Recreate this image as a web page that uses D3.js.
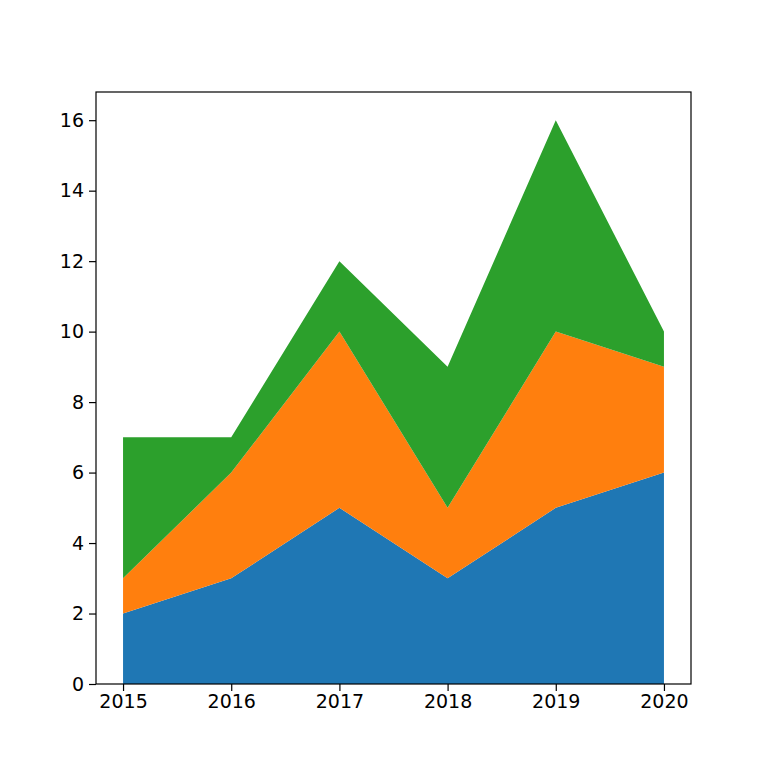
<!DOCTYPE html>
<html><head><meta charset="utf-8">
<script src="https://cdn.jsdelivr.net/npm/d3@7"></script>
<style>body{margin:0;background:#fff}</style></head>
<body><svg id="c" width="768" height="768"></svg>
<script>
const years=[2015,2016,2017,2018,2019,2020];
const seriesA=[2,3,5,3,5,6];
const seriesB=[1,3,5,2,5,3];
const seriesC=[4,1,2,4,6,1];
const colors=["#1f77b4","#ff7f0e","#2ca02c"];
const yTicks=[0,2,4,6,8,10,12,14,16];
const L=96,R=691,T=92,B=684;
const svg=d3.select("#c");
const x=d3.scaleLinear().domain([2014.75,2020.25]).range([L,R]);
const y=d3.scaleLinear().domain([0,16.8]).range([B,T]);
const rows=years.map((yr,i)=>({yr,a:seriesA[i],b:seriesB[i],c:seriesC[i]}));
const stack=d3.stack().keys(["a","b","c"])(rows);
const area=d3.area().x(d=>x(d.data.yr)).y0(d=>y(d[0])).y1(d=>y(d[1]));
svg.selectAll("path.s").data(stack).enter().append("path").attr("d",area).attr("fill",(d,i)=>colors[i]);
const fs="19px";
const gx=svg.append("g").attr("transform",`translate(0,${B})`).call(d3.axisBottom(x).tickValues(years).tickFormat(d3.format("d")).tickSize(7).tickPadding(4));
const gy=svg.append("g").attr("transform",`translate(${L},0)`).call(d3.axisLeft(y).tickValues(yTicks).tickSize(7).tickPadding(5));
[gx,gy].forEach(g=>{g.select(".domain").remove();g.selectAll("text").style("font-family","DejaVu Sans").style("font-size",fs).attr("fill","#000");g.selectAll("line").attr("stroke","#000").attr("stroke-width",1.2);});
svg.append("rect").attr("x",L).attr("y",T).attr("width",R-L).attr("height",B-T).attr("fill","none").attr("stroke","#000").attr("stroke-width",1.2);
</script></body></html>
